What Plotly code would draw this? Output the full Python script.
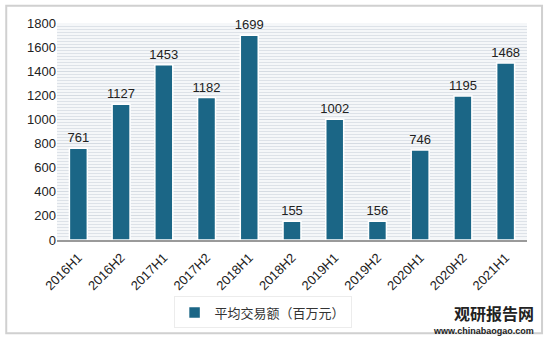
import plotly.graph_objects as go

categories = ["2016H1", "2016H2", "2017H1", "2017H2", "2018H1", "2018H2",
              "2019H1", "2019H2", "2020H1", "2020H2", "2021H1"]
values = [761, 1127, 1453, 1182, 1699, 155, 1002, 156, 746, 1195, 1468]
series_name = "平均交易额（百万元）"
y_ticks = [0, 200, 400, 600, 800, 1000, 1200, 1400, 1600, 1800]

font_family = "Liberation Sans, Arial, Noto Sans CJK SC, sans-serif"

fig = go.Figure()
fig.add_trace(go.Bar(
    x=categories, y=values, name=series_name,
    marker=dict(color="#1b6686", line=dict(color="#ffffff", width=1.5)),
    text=[str(v) for v in values], textposition="outside",
    textfont=dict(size=13, color="#222222"), cliponaxis=False,
    constraintext="none",
    showlegend=True,
))

fig.update_layout(
    width=551, height=340,
    margin=dict(l=57, r=24, t=23, b=100, autoexpand=False),
    paper_bgcolor="#ffffff",
    plot_bgcolor="#f5f7f9",
    font=dict(family=font_family, color="#222222"),
    bargap=0.58,
    uniformtext=dict(minsize=13, mode="show"),
    showlegend=True,
    legend=dict(
        orientation="h", xref="container", yref="container",
        x=0.315, y=0.128, xanchor="left", yanchor="top",
        font=dict(size=13, color="#333333", family="Noto Sans CJK SC, sans-serif"),
        bgcolor="#ffffff", bordercolor="#ececec", borderwidth=1,
        itemwidth=30,
    ),
    xaxis=dict(
        tickangle=-45, tickfont=dict(size=13, color="#222222"),
        showline=True, linecolor="#9a9a9a", linewidth=2,
        ticks="", showgrid=False, ticklabelstandoff=3,
    ),
    yaxis=dict(
        range=[0, 1800], tickvals=y_ticks,
        tickfont=dict(size=13, color="#222222"),
        showgrid=True, gridcolor="#d5dbe2", gridwidth=1,
        minor=dict(dtick=25, showgrid=True, gridcolor="#dde2e8", gridwidth=1),
        zeroline=False, showline=False, ticks="",
    ),
)

# outer frame
fig.add_shape(type="rect", xref="paper", yref="paper",
              x0=-0.108, x1=1.032, y0=-0.43, y1=1.08,
              line=dict(color="#d0d0d0", width=2), layer="below")

# watermark
fig.add_annotation(xref="paper", yref="paper", x=1.02, y=-0.27,
                   xanchor="right", yanchor="top", showarrow=False,
                   text="<b>观研报告网</b>",
                   font=dict(size=16, color="#222222", family="Noto Sans CJK SC"))
fig.add_annotation(xref="paper", yref="paper", x=1.02, y=-0.385,
                   xanchor="right", yanchor="top", showarrow=False,
                   text="<b>www.chinabaogao.com</b>",
                   font=dict(size=9, color="#222222"))

fig.write_html("out.html")
